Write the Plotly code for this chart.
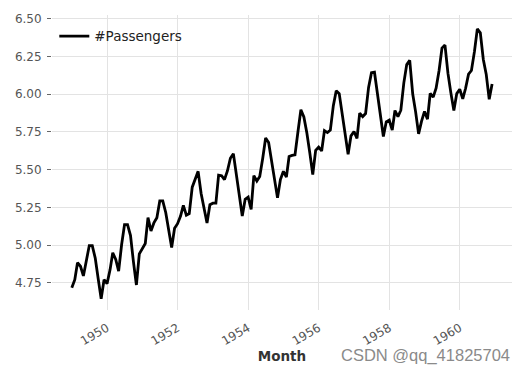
import pandas as pd
import plotly.graph_objects as go

months = pd.date_range("1949-01-01", "1960-12-01", freq="MS")
passengers_log = [
    4.718, 4.771, 4.883, 4.860, 4.796, 4.905, 4.997, 4.997, 4.913, 4.779, 4.644, 4.771,
    4.745, 4.836, 4.949, 4.905, 4.828, 5.004, 5.136, 5.136, 5.063, 4.890, 4.736, 4.942,
    4.977, 5.011, 5.182, 5.094, 5.147, 5.182, 5.293, 5.293, 5.215, 5.088, 4.984, 5.112,
    5.142, 5.193, 5.263, 5.198, 5.209, 5.384, 5.438, 5.489, 5.342, 5.252, 5.147, 5.268,
    5.278, 5.278, 5.464, 5.460, 5.434, 5.493, 5.576, 5.606, 5.468, 5.352, 5.193, 5.303,
    5.318, 5.236, 5.460, 5.425, 5.455, 5.576, 5.710, 5.680, 5.557, 5.434, 5.313, 5.434,
    5.489, 5.451, 5.587, 5.595, 5.598, 5.753, 5.897, 5.849, 5.743, 5.613, 5.468, 5.628,
    5.649, 5.624, 5.759, 5.746, 5.762, 5.924, 6.023, 6.004, 5.872, 5.724, 5.602, 5.724,
    5.753, 5.707, 5.875, 5.852, 5.872, 6.045, 6.142, 6.146, 6.001, 5.849, 5.720, 5.817,
    5.829, 5.762, 5.892, 5.852, 5.894, 6.075, 6.196, 6.225, 6.001, 5.883, 5.737, 5.820,
    5.886, 5.835, 6.006, 5.981, 6.040, 6.157, 6.306, 6.326, 6.138, 6.009, 5.892, 6.004,
    6.033, 5.969, 6.038, 6.133, 6.157, 6.282, 6.433, 6.407, 6.230, 6.133, 5.966, 6.068,
]
series_name = "#Passengers"
x_tick_years = ["1950", "1952", "1954", "1956", "1958", "1960"]
y_tick_vals = [4.75, 5.00, 5.25, 5.50, 5.75, 6.00, 6.25, 6.50]

fig = go.Figure()
fig.add_trace(go.Scatter(
    x=months, y=passengers_log, mode="lines", name=series_name,
    line=dict(color="black", width=2.8),
))

tick_font = dict(family="DejaVu Sans", size=12, color="#555555")
fig.update_layout(
    width=517, height=365,
    margin=dict(l=44, r=13, t=4, b=63),
    paper_bgcolor="white", plot_bgcolor="white",
    showlegend=True,
    legend=dict(x=0.005, y=0.98, xanchor="left", yanchor="top",
                bgcolor="rgba(255,255,255,0)",
                font=dict(family="DejaVu Sans", size=13.5, color="#222222")),
    xaxis=dict(
        range=["1948-06-10", "1961-06-25"],
        tickvals=[f"{y}-01-01" for y in x_tick_years],
        ticktext=x_tick_years,
        tickangle=-30, tickfont=tick_font,
        showgrid=True, gridcolor="#e3e3e3", gridwidth=1,
        zeroline=False, showline=False, ticks="",
        ticklabelstandoff=8, ticklabeloverflow="allow",
        title=dict(text="<b>Month</b>", font=dict(family="DejaVu Sans", size=13.5, color="#333333"), standoff=3),
    ),
    yaxis=dict(
        range=[4.57, 6.525],
        tickvals=y_tick_vals,
        ticktext=[f"{v:.2f}" for v in y_tick_vals],
        tickfont=tick_font,
        showgrid=True, gridcolor="#e3e3e3", gridwidth=1,
        zeroline=False, showline=False,
        ticks="outside", ticklen=4, tickcolor="#666666", tickwidth=1,
        ticklabelstandoff=3, ticklabeloverflow="allow",
    ),
    annotations=[dict(
        text="CSDN @qq_41825704", xref="paper", yref="paper",
        x=1.0, y=-0.155, xanchor="right", yanchor="middle", showarrow=False,
        font=dict(family="Liberation Sans", size=16.5, color="#8a8a8a"),
    )],
)

fig.write_html("out.html")
